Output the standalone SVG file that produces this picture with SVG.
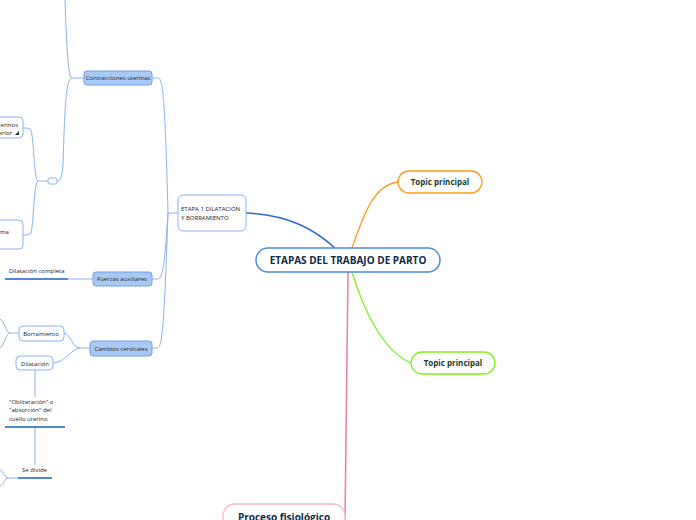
<svg xmlns="http://www.w3.org/2000/svg" width="696" height="520" viewBox="0 0 696 520">
<style>
text{font-family:"Open Sans","Noto Sans","Liberation Sans",sans-serif;fill:#222}
.c{fill:none;stroke:#8ab4f0;stroke-width:1}
.n{fill:#fff;stroke:#8ab4f0;stroke-width:1}
.f{fill:#a9c9f5;stroke:#6fa0e6;stroke-width:1}
.s{font-size:6px}
.u{stroke:#1a5fc8;stroke-width:1.3}
.t{font-size:8px;font-weight:bold;fill:#1b3a2c;text-anchor:middle}
</style>
<rect width="696" height="520" fill="#fff"/>
<g id="connectors">
<path d="M246,213 C290,215 315,230 335,248" fill="none" stroke="#2a6ad8" stroke-width="1.5"/>
<path d="M352,248 C365,210 375,185 398,182" fill="none" stroke="#ff9a1a" stroke-width="1.3"/>
<path d="M352,272 C365,315 385,352 411,363" fill="none" stroke="#80f020" stroke-width="1.3"/>
<path d="M348,272 L345,520" fill="none" stroke="#f07aa0" stroke-width="1.5"/>
<path class="c" d="M178,213 H168 M152,78 H158 C163,78 165,100 168,213 M152,279 H158 C163,279 165,260 168,213 M152,348 H158 C163,348 165,300 168,213"/>
<path class="c" d="M84,78 H72 C68,78 67,50 65,0 M72,78 C66,80 65,100 63,165 C62,178 60,181 57,181"/>
<path class="c" d="M48,181 H38 C34,181 34,140 31,130 C30,128 26,128 23,128 M38,181 C34,181 34,220 31,233 C30,235 26,235 23,235"/>
<path class="c" d="M90,348 H80 C72,348 70,333 64,333 M80,348 C72,348 65,363 53,363"/>
<path class="c" d="M19,333 H10 C6,333 5,322 0,319 M10,333 C6,333 5,344 0,348"/>
<path class="c" d="M93,279 H68 M35,370 V397 M35,427 V465"/>
<path class="c" d="M18,478 H8 C5,478 4,472 0,470 M8,478 C5,478 4,484 0,486"/>
</g>
<g id="central"><rect x="256" y="248" width="184" height="24" rx="12" fill="#fff" stroke="#4a90d9" stroke-width="1.5"/><text x="348" y="264" text-anchor="middle" font-size="10" font-weight="bold" style="fill:#0f2a4a">ETAPAS DEL TRABAJO DE PARTO</text></g>
<g id="topic1"><rect x="398" y="171" width="84" height="22" rx="11" fill="#fff" stroke="#ff9a1a" stroke-width="1.3"/><text class="t" x="440" y="185">Topic principal</text></g>
<g id="topic2"><rect x="411" y="352" width="84" height="22" rx="11" fill="#fff" stroke="#80f020" stroke-width="1.3"/><text class="t" x="453" y="366">Topic principal</text></g>
<g id="proceso"><rect x="223" y="504" width="122" height="30" rx="12" fill="#fff" stroke="#f5b8cc" stroke-width="1.3"/><text x="284" y="521" text-anchor="middle" font-size="10" font-weight="bold" style="fill:#0f2a4a">Proceso fisiológico</text></g>
<g id="etapa1"><rect class="n" x="178" y="195" width="68" height="36" rx="5"/><text class="s" x="181" y="211">ETAPA 1 DILATACIÓN</text><text class="s" x="181" y="220">Y BORRAMIENTO</text></g>
<g id="contracciones"><rect class="f" x="84" y="71" width="68" height="14" rx="3"/><text class="s" x="118" y="80" text-anchor="middle">Contracciones uterinas</text></g>
<g id="fuerzas"><rect class="f" x="93" y="272" width="59" height="14" rx="3"/><text class="s" x="122" y="281" text-anchor="middle">Fuerzas auxiliares</text></g>
<g id="cambios"><rect class="f" x="90" y="341" width="62" height="15" rx="3"/><text class="s" x="121" y="351" text-anchor="middle">Cambios cervicales</text></g>
<g id="borramiento"><rect class="n" x="19" y="326" width="45" height="15" rx="4"/><text class="s" x="41" y="336" text-anchor="middle">Borramiento</text></g>
<g id="dilatacion"><rect class="n" x="16" y="356" width="37" height="14" rx="4"/><text class="s" x="35" y="366" text-anchor="middle">Dilatación</text></g>
<g id="collapsed"><rect class="n" x="48" y="178" width="9" height="6" rx="2"/></g>
<g id="uterinos"><rect class="n" x="-10" y="117" width="33" height="21" rx="4"/><text class="s" x="18" y="127" text-anchor="end">uterinos</text><text class="s" x="12" y="135" text-anchor="end">erior</text><path d="M15,135 L19,135 L19,131 Z" fill="#222"/></g>
<g id="ma"><rect class="n" x="-10" y="220" width="33" height="29" rx="4"/><text class="s" x="0" y="234">ma</text></g>
<g id="dilcompleta"><text class="s" x="9" y="273">Dilatación completa</text><line class="u" x1="5" y1="279" x2="68" y2="279"/></g>
<g id="obliteracion"><text class="s" x="9" y="404">"Obliteración" o</text><text class="s" x="9" y="412">"absorción" del</text><text class="s" x="9" y="421">cuello uterino</text><line class="u" x1="5" y1="427" x2="65" y2="427"/></g>
<g id="sedivide"><text class="s" x="22" y="472">Se divide</text><line class="u" x1="18" y1="478" x2="52" y2="478"/></g>
</svg>
